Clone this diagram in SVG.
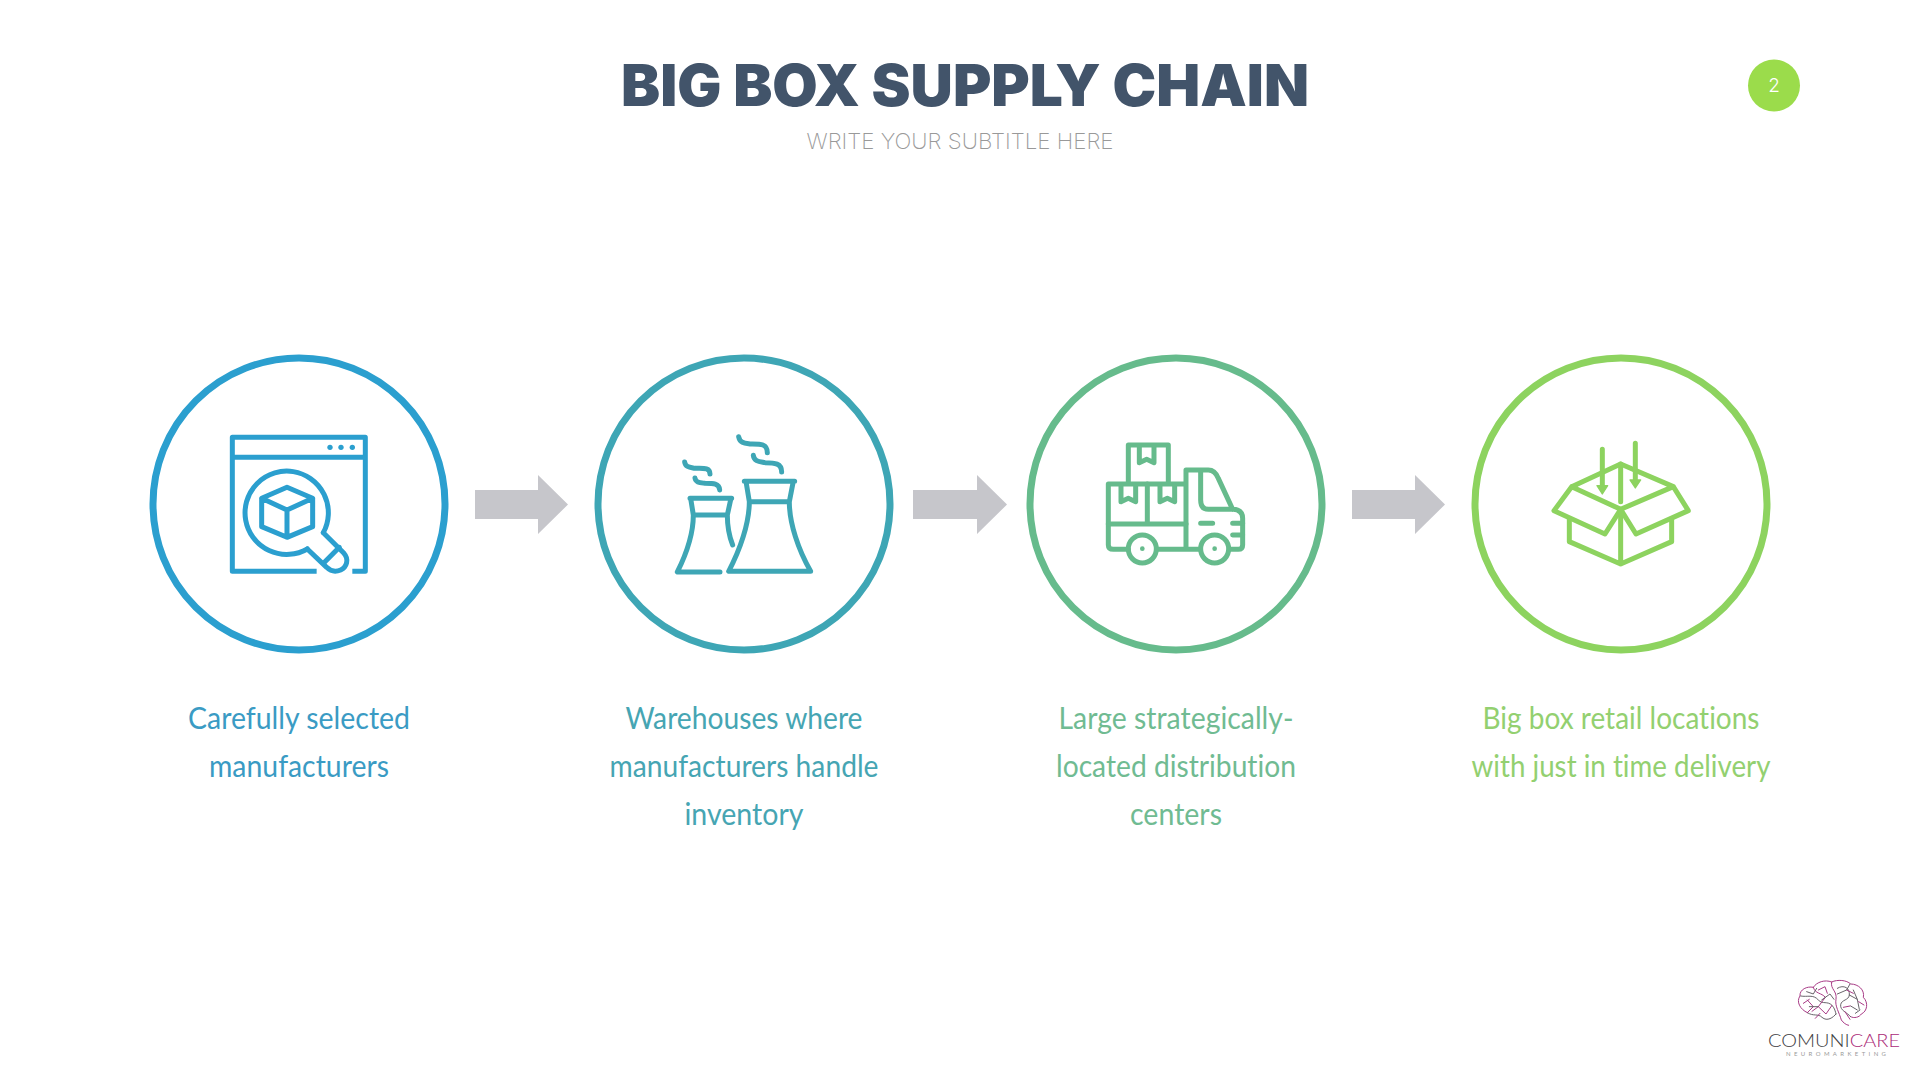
<svg xmlns="http://www.w3.org/2000/svg" width="1920" height="1080" viewBox="0 0 1920 1080">
<style>
.ring{fill:#fff;stroke-width:7}
.ic{fill:none;stroke-width:15;stroke-linejoin:round;stroke-linecap:round}
.lb{font-family:"Lato","Liberation Sans",sans-serif;font-size:30px;text-anchor:middle;font-variant-ligatures:none}
.arrow{fill:#c6c6cb}
.c1{stroke:#2b9fcf}.c2{stroke:#3ea6b5}.c3{stroke:#66bb8c}.c4{stroke:#8dd35f}
.t1{fill:#3a9bc4}.t2{fill:#46a5b3}.t3{fill:#70bb92}.t4{fill:#93d070}
.bp{fill:none;stroke:#a83a86;stroke-width:3;stroke-linecap:round;stroke-linejoin:round}
.bg{fill:none;stroke:#5c585f;stroke-width:2.8;stroke-linecap:round;stroke-linejoin:round}
</style>
<rect width="1920" height="1080" fill="#fff"/>

<g id="title">
<text x="965" y="106" font-family="Inter,'Liberation Sans',sans-serif" font-weight="900" font-size="58" fill="#42546a" text-anchor="middle" textLength="688" lengthAdjust="spacingAndGlyphs">BIG BOX SUPPLY CHAIN</text>
<text x="960" y="149" font-family="Inter,'Liberation Sans',sans-serif" font-weight="200" font-size="22" fill="#999" text-anchor="middle" textLength="307" lengthAdjust="spacingAndGlyphs">WRITE YOUR SUBTITLE HERE</text>
</g>

<g id="page-badge">
<circle cx="1774" cy="85.500" r="26" fill="#9bdc4b"/>
<text x="1774" y="92" font-family="Inter,'Liberation Sans',sans-serif" font-weight="300" font-size="19" fill="#fff" text-anchor="middle">2</text>
</g>

<g id="connectors">
<polygon class="arrow" points="475,490 538,490 538,475 568,504.500 538,534 538,519 475,519"/>
<polygon class="arrow" points="913,490 977,490 977,475 1007,504.500 977,534 977,519 913,519"/>
<polygon class="arrow" points="1352,490 1415,490 1415,475 1445,504.500 1415,534 1415,519 1352,519"/>
</g>

<g id="node-manufacturers">
<circle class="ring c1" cx="299" cy="504" r="146"/>
<g class="ic c1" transform="translate(200 410) scale(.3333)">
<path stroke-linecap="butt" d="M350 484H97V82H496V484H457M97 142H496"/>
<circle cx="390" cy="112" r="8" fill="#2b9fcf" stroke="none"/><circle cx="423" cy="112" r="8" fill="#2b9fcf" stroke="none"/><circle cx="457" cy="112" r="8" fill="#2b9fcf" stroke="none"/>
<path d="M370 368A125 125 0 1 0 322 417"/>
<path d="M370 368L432 430C448 448 440 472 422 480C408 486 392 484 380 472L322 417"/>
<path d="M418 412L372 458"/>
<path d="M261 232L338 265V350L261 382L185 350V265ZM185 265L261 300L338 265M261 300V382"/>
</g>
<text class="lb t1" x="299" y="729" textLength="222" lengthAdjust="spacingAndGlyphs">Carefully selected</text>
<text class="lb t1" x="299" y="777" textLength="180" lengthAdjust="spacingAndGlyphs">manufacturers</text>
</g>

<g id="node-warehouses">
<circle class="ring c2" cx="744" cy="504" r="146"/>
<g class="ic c2" transform="translate(650 410) scale(.3333)">
<path d="M283 214H434M288 214L298 275C298 340 270 420 236 484H482C445 420 418 340 418 275L430 214M298 275H418"/>
<path d="M120 265H245M122 265L130 315C130 370 110 430 82 486H210M243 265L232 315C232 350 238 380 248 405M130 315H232"/>
<path d="M266 80C270 100 285 100 300 102C330 102 352 100 352 128M310 136C312 155 330 155 345 158C375 158 395 160 395 186"/>
<path d="M104 156C106 172 120 172 135 175C160 175 180 172 180 192M135 204C137 218 150 218 165 220C190 220 208 220 209 240"/>
</g>
<text class="lb t2" x="744" y="729" textLength="237" lengthAdjust="spacingAndGlyphs">Warehouses where</text>
<text class="lb t2" x="744" y="777" textLength="269" lengthAdjust="spacingAndGlyphs">manufacturers handle</text>
<text class="lb t2" x="744" y="825" textLength="119" lengthAdjust="spacingAndGlyphs">inventory</text>
</g>

<g id="node-distribution">
<circle class="ring c3" cx="1176" cy="504" r="146"/>
<g class="ic c3" transform="translate(1080 420) scale(.3333)">
<path d="M145 190V75H265V190M178 80V128L200 118L222 128V80"/>
<path d="M318 192H85V375Q85 388 100 388H145M232 388H360M450 388H475Q488 388 488 375V295Q488 270 460 268H385Q362 268 362 240V150M318 388V150H385Q405 150 415 175L458 268"/>
<path d="M202 192V312M85 312H318M123 198V245L145 235L167 245V198M240 198V245L262 235L284 245V198"/>
<circle cx="187" cy="387" r="42"/><circle cx="404" cy="387" r="42"/>
<circle cx="187" cy="386" r="7" fill="#66bb8c" stroke="none"/><circle cx="404" cy="386" r="7" fill="#66bb8c" stroke="none"/>
<path d="M362 310H398M458 310H488M458 345H488"/>
</g>
<text class="lb t3" x="1176" y="729" textLength="235" lengthAdjust="spacingAndGlyphs">Large strategically-</text>
<text class="lb t3" x="1176" y="777" textLength="240" lengthAdjust="spacingAndGlyphs">located distribution</text>
<text class="lb t3" x="1176" y="825" textLength="92" lengthAdjust="spacingAndGlyphs">centers</text>
</g>

<g id="node-retail">
<circle class="ring c4" cx="1621" cy="504" r="146"/>
<g class="ic c4" transform="translate(1530 420) scale(.3333)">
<path d="M125 200L272 132L430 200L272 268ZM125 200L72 272L225 342L272 268L318 342L475 272L430 200"/>
<path d="M118 298V365L272 432L425 365V298M272 268V432M272 132V245"/>
<path d="M217 88V195M316 70V178"/>
<path d="M201 197H233L217 222ZM300 180H332L316 204Z" fill="#8dd35f" stroke-width="4"/>
</g>
<text class="lb t4" x="1621" y="729" textLength="277" lengthAdjust="spacingAndGlyphs">Big box retail locations</text>
<text class="lb t4" x="1621" y="777" textLength="299" lengthAdjust="spacingAndGlyphs">with just in time delivery</text>
</g>

<g id="logo">
<g transform="translate(1750 970) scale(.3333)">
<path class="bp" d="M172 128C150 118 138 95 150 78C148 58 172 48 190 52C200 36 225 28 245 36C262 28 290 30 302 42C325 42 345 60 340 82C356 98 352 124 334 132C328 142 312 146 302 140"/>
<path class="bg" d="M172 128C190 140 205 130 216 142C232 156 250 142 258 132M152 78C172 82 190 72 205 90C218 104 232 92 246 106C255 116 256 125 258 132"/>
<path class="bp" d="M190 52C195 72 215 68 226 82L205 110L228 132L246 106M245 36C240 58 262 62 258 88C254 108 268 128 274 150C280 158 288 165 296 166"/>
<path class="bg" d="M262 55C282 42 300 55 298 75C296 92 275 88 272 104C270 122 290 126 302 140M298 75L322 88L328 118M310 60L322 88M302 108L322 120"/>
<path class="bp" d="M172 90L190 110L172 128M205 110L186 124M280 112L300 108M205 60L225 50L232 70M160 100L178 88M290 60L310 70M326 95L342 105M285 125L300 148M210 130L196 145"/>
<path class="bg" d="M170 65L190 72L200 55M215 90L240 72L252 88M178 110L205 110M300 42L290 60L262 72M316 130L330 120"/>
</g>
<text x="1768" y="1047" font-family="Lato,'Liberation Sans',sans-serif" font-weight="300" font-size="18" textLength="132" lengthAdjust="spacingAndGlyphs"><tspan fill="#413e43">COMUNI</tspan><tspan fill="#ab2a78">CARE</tspan></text>
<text x="1786" y="1056" font-family="Lato,'Liberation Sans',sans-serif" font-size="6" fill="#9a9a9a" textLength="100" lengthAdjust="spacing">NEUROMARKETING</text>
</g>
</svg>
